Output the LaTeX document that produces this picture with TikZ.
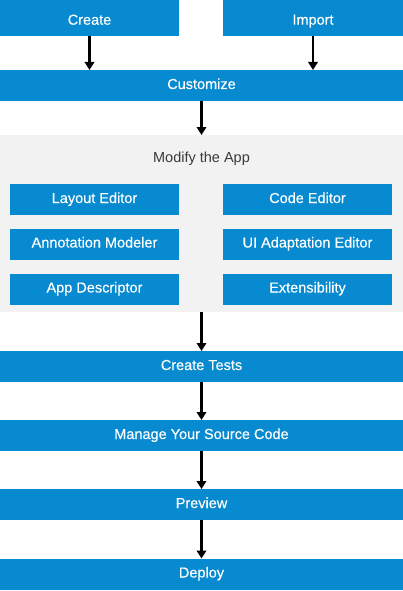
\documentclass[tikz,border=0pt]{standalone}
\usepackage{fontspec}
\setmainfont{Liberation Sans}
\newfontfamily\medfont[FakeBold=0.3]{Liberation Sans}
\usetikzlibrary{arrows.meta}
\definecolor{sapblue}{HTML}{078AD0}
\definecolor{panelgray}{HTML}{F2F2F2}
\definecolor{titlegray}{HTML}{3A3A3A}
\tikzset{
  bluebox/.style={fill=sapblue, text=white, inner sep=0pt, outer sep=0pt,
    minimum height=31pt, font=\medfont\fontsize{14.5}{16}\selectfont,
    text height=10pt, text depth=3pt},
  topbox/.style={bluebox, minimum height=36pt, text height=13.4pt, text depth=0pt},
  subbox/.style={bluebox, minimum width=169pt},
  arr/.style={draw=black, line width=2.6pt, -{Triangle[length=8pt,width=9.5pt]}}
}
\begin{document}
\begin{tikzpicture}[x=1pt,y=-1pt]
\useasboundingbox (0,0) rectangle (403,591);
\fill[white] (0,0) rectangle (403,591);
% top row
\node[topbox, minimum width=179pt] (create) at (89.5,18) {Create};
\node[topbox, minimum width=180pt] (import) at (313,18) {Import};
\node[bluebox, minimum width=403pt] (customize) at (201.5,85.5) {Customize};
% panel
\node[fill=panelgray, inner sep=0pt, outer sep=0pt, minimum width=403pt, minimum height=177pt] (panel) at (201.5,223.5) {};
\node[text=titlegray, font=\fontsize{14.5}{16}\selectfont, inner sep=0pt] (title) at (201.5,159) {Modify the App};
\node[subbox] (layout) at (94.5,199.5) {Layout Editor};
\node[subbox] (code) at (307.5,199.5) {Code Editor};
\node[subbox] (annot) at (94.5,244) {Annotation Modeler};
\node[subbox] (uiad) at (307.5,244) {UI Adaptation Editor};
\node[subbox] (desc) at (94.5,289) {App Descriptor};
\node[subbox] (ext) at (307.5,289) {Extensibility};
% lower chain
\node[bluebox, minimum width=403pt] (tests) at (201.5,366.5) {Create Tests};
\node[bluebox, minimum width=403pt] (manage) at (201.5,435.5) {Manage Your Source Code};
\node[bluebox, minimum width=403pt] (preview) at (201.5,504.5) {Preview};
\node[bluebox, minimum width=403pt] (deploy) at (201.5,574) {Deploy};
% arrows
\draw[arr] (create.south) -- (create.south |- customize.north);
\draw[arr] (import.south) -- (import.south |- customize.north);
\draw[arr] (customize.south) -- (panel.north);
\draw[arr] (panel.south) -- (tests.north);
\draw[arr] (tests.south) -- (manage.north);
\draw[arr] (manage.south) -- (preview.north);
\draw[arr] (preview.south) -- (deploy.north);
\end{tikzpicture}
\end{document}
